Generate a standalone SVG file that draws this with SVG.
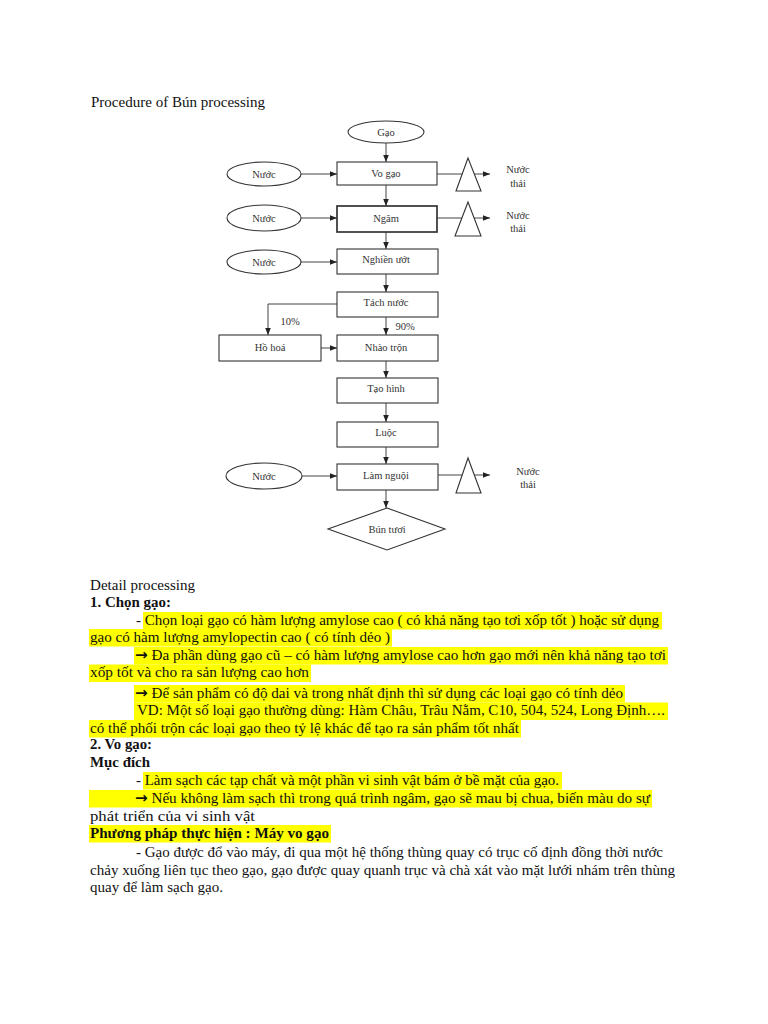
<svg xmlns="http://www.w3.org/2000/svg" width="768" height="1024" viewBox="0 0 768 1024">
<style>
  .bg{fill:#ffffff}
  .box{fill:#ffffff;stroke:#333333;stroke-width:1.1}
  .thick{stroke-width:1.7}
  .lbl{font-family:"Liberation Serif","Times New Roman",serif;font-size:10.5px;fill:#333333;text-anchor:middle}
  .con{fill:none;stroke:#444444;stroke-width:1}
  .body{font-family:"Liberation Serif","Times New Roman",serif;font-size:15px;fill:#111111}
  .b{font-weight:bold}
  .arr{font-family:"DejaVu Sans",sans-serif;font-weight:bold}
  .hl{fill:#ffff00}
</style>
<defs>
  <marker id="ah" viewBox="0 0 10 10" refX="10" refY="5" markerWidth="7" markerHeight="7" markerUnits="userSpaceOnUse" orient="auto">
    <path d="M0,1 L10,5 L0,9 Z" fill="#222222"/>
  </marker>
</defs>
<rect class="bg" x="0" y="0" width="768" height="1024"/>

<text class="body" x="91" y="107" textLength="174" lengthAdjust="spacingAndGlyphs">Procedure of Bún processing</text>

<g id="connectors">
  <line class="con" x1="386" y1="142" x2="386" y2="162" marker-end="url(#ah)"/>
  <line class="con" x1="301" y1="174" x2="337" y2="174" marker-end="url(#ah)"/>
  <line class="con" x1="437" y1="174" x2="490" y2="174" marker-end="url(#ah)"/>
  <line class="con" x1="386" y1="185" x2="386" y2="206" marker-end="url(#ah)"/>
  <line class="con" x1="301" y1="218" x2="337" y2="218" marker-end="url(#ah)"/>
  <line class="con" x1="437" y1="218" x2="490" y2="218" marker-end="url(#ah)"/>
  <line class="con" x1="386" y1="232" x2="386" y2="249" marker-end="url(#ah)"/>
  <line class="con" x1="301" y1="262" x2="337" y2="262" marker-end="url(#ah)"/>
  <line class="con" x1="386" y1="274" x2="386" y2="292" marker-end="url(#ah)"/>
  <polyline class="con" points="337,304 268,304 268,335" marker-end="url(#ah)"/>
  <line class="con" x1="386" y1="317" x2="386" y2="335" marker-end="url(#ah)"/>
  <line class="con" x1="321" y1="348" x2="337" y2="348" marker-end="url(#ah)"/>
  <line class="con" x1="386" y1="361" x2="386" y2="378" marker-end="url(#ah)"/>
  <line class="con" x1="386" y1="403" x2="386" y2="422" marker-end="url(#ah)"/>
  <line class="con" x1="386" y1="447" x2="386" y2="464" marker-end="url(#ah)"/>
  <line class="con" x1="302" y1="476" x2="337" y2="476" marker-end="url(#ah)"/>
  <line class="con" x1="438" y1="475" x2="490" y2="475" marker-end="url(#ah)"/>
  <line class="con" x1="386" y1="490" x2="386" y2="508" marker-end="url(#ah)"/>
  <text class="lbl" x="290" y="325">10%</text>
  <text class="lbl" x="405" y="330">90%</text>
</g>

<g id="gao"><ellipse class="box" cx="386" cy="132" rx="38" ry="11"/><text class="lbl" x="386" y="135.5">Gạo</text></g>
<g id="nuoc1"><ellipse class="box" cx="264" cy="174" rx="37" ry="12"/><text class="lbl" x="264" y="177.5">Nước</text></g>
<g id="vogao"><rect class="box" x="337" y="162" width="100" height="23"/><text class="lbl" x="386" y="177">Vo gạo</text></g>
<g id="loc1"><polygon class="box" points="468,158 456,191 481,191"/></g>
<g id="thai1"><text class="lbl" x="518" y="173">Nước</text><text class="lbl" x="518" y="187">thải</text></g>

<g id="nuoc2"><ellipse class="box" cx="264" cy="218" rx="37" ry="13"/><text class="lbl" x="264" y="221.5">Nước</text></g>
<g id="ngam"><rect class="box thick" x="337" y="206" width="100" height="26"/><text class="lbl" x="386" y="222">Ngâm</text></g>
<g id="loc2"><polygon class="box" points="468,202 455,236 481,236"/></g>
<g id="thai2"><text class="lbl" x="518" y="219">Nước</text><text class="lbl" x="518" y="232">thải</text></g>

<g id="nuoc3"><ellipse class="box" cx="264" cy="262" rx="37" ry="12"/><text class="lbl" x="264" y="265.5">Nước</text></g>
<g id="nghienuot"><rect class="box" x="337" y="249" width="101" height="25"/><text class="lbl" x="386" y="263">Nghiền ướt</text></g>

<g id="tachnuoc"><rect class="box" x="337" y="292" width="101" height="25"/><text class="lbl" x="386" y="306">Tách nước</text></g>
<g id="hohoa"><rect class="box" x="219" y="335" width="102" height="26"/><text class="lbl" x="270" y="351">Hồ hoá</text></g>
<g id="nhaotron"><rect class="box" x="337" y="335" width="101" height="26"/><text class="lbl" x="386" y="351">Nhào trộn</text></g>
<g id="taohinh"><rect class="box" x="337" y="378" width="101" height="25"/><text class="lbl" x="386" y="392">Tạo hình</text></g>
<g id="luoc"><rect class="box" x="337" y="422" width="101" height="25"/><text class="lbl" x="386" y="436">Luộc</text></g>

<g id="nuoc4"><ellipse class="box" cx="264" cy="476" rx="38" ry="13"/><text class="lbl" x="264" y="479.5">Nước</text></g>
<g id="lamnguoi"><rect class="box" x="337" y="464" width="101" height="26"/><text class="lbl" x="386" y="479">Làm nguội</text></g>
<g id="loc3"><polygon class="box" points="468,458 456,493 481,493"/></g>
<g id="thai3"><text class="lbl" x="528" y="475">Nước</text><text class="lbl" x="528" y="488">thải</text></g>

<g id="buntuoi"><polygon class="box" points="387,508 445,529 387,550 328,529"/><text class="lbl" x="387" y="532.5">Bún tươi</text></g>

<g id="highlights">
  <rect class="hl" x="143" y="612" width="519" height="17.5"/>
  <rect class="hl" x="89" y="629" width="303" height="17.5"/>
  <rect class="hl" x="134" y="647" width="534" height="17.5"/>
  <rect class="hl" x="89" y="664.5" width="222" height="17.5"/>
  <rect class="hl" x="134" y="685" width="491" height="17.5"/>
  <rect class="hl" x="134" y="702.5" width="534" height="17.5"/>
  <rect class="hl" x="89" y="720" width="432" height="17.5"/>
  <rect class="hl" x="143" y="772" width="419" height="17.5"/>
  <rect class="hl" x="89" y="790" width="563" height="17.5"/>
  <rect class="hl" x="89" y="825" width="242" height="17.5"/>
</g>

<g id="detail">
  <text class="body" x="90" y="590" textLength="105" lengthAdjust="spacingAndGlyphs">Detail processing</text>
  <text class="body b" x="90" y="607" textLength="81" lengthAdjust="spacingAndGlyphs">1. Chọn gạo:</text>
  <text class="body" x="136" y="625" textLength="523" lengthAdjust="spacingAndGlyphs">- Chọn loại gạo có hàm lượng amylose cao ( có khả năng tạo tơi xốp tốt ) hoặc sử dụng</text>
  <text class="body" x="90" y="642" textLength="300" lengthAdjust="spacingAndGlyphs">gạo có hàm lượng amylopectin cao ( có tính dẻo )</text>
  <text class="body" x="135" y="660" textLength="531" lengthAdjust="spacingAndGlyphs"><tspan class="arr">→</tspan> Đa phần dùng gạo cũ – có hàm lượng amylose cao hơn gạo mới nên khả năng tạo tơi</text>
  <text class="body" x="90" y="677" textLength="219" lengthAdjust="spacingAndGlyphs">xốp tốt và cho ra sản lượng cao hơn</text>
  <text class="body" x="135" y="698" textLength="488" lengthAdjust="spacingAndGlyphs"><tspan class="arr">→</tspan> Để sản phẩm có độ dai và trong nhất định thì sử dụng các loại gạo có tính dẻo</text>
  <text class="body" x="137" y="715" textLength="528" lengthAdjust="spacingAndGlyphs">VD: Một số loại gạo thường dùng: Hàm Châu, Trâu Nằm, C10, 504, 524, Long Định….</text>
  <text class="body" x="90" y="733" textLength="429" lengthAdjust="spacingAndGlyphs">có thể phối trộn các loại gạo theo tỷ lệ khác để tạo ra sản phẩm tốt nhất</text>
  <text class="body b" x="90" y="749" textLength="62" lengthAdjust="spacingAndGlyphs">2. Vo gạo:</text>
  <text class="body b" x="90" y="767" textLength="60" lengthAdjust="spacingAndGlyphs">Mục đích</text>
  <text class="body" x="136" y="785" textLength="423" lengthAdjust="spacingAndGlyphs">- Làm sạch các tạp chất và một phần vi sinh vật bám ở bề mặt của gạo.</text>
  <text class="body" x="135" y="803" textLength="515" lengthAdjust="spacingAndGlyphs"><tspan class="arr">→</tspan> Nếu không làm sạch thì trong quá trình ngâm, gạo sẽ mau bị chua, biến màu do sự</text>
  <text class="body" x="90" y="821" textLength="165" lengthAdjust="spacingAndGlyphs">phát triển của vi sinh vật</text>
  <text class="body b" x="90" y="838" textLength="239" lengthAdjust="spacingAndGlyphs">Phương pháp thực hiện : Máy vo gạo</text>
  <text class="body" x="136" y="857" textLength="527" lengthAdjust="spacingAndGlyphs">- Gạo được đổ vào máy, đi qua một hệ thống thùng quay có trục cố định đồng thời nước</text>
  <text class="body" x="90" y="875" textLength="585" lengthAdjust="spacingAndGlyphs">chảy xuống liên tục theo gạo, gạo được quay quanh trục và chà xát vào mặt lưới nhám trên thùng</text>
  <text class="body" x="90" y="892" textLength="133" lengthAdjust="spacingAndGlyphs">quay để làm sạch gạo.</text>
</g>
</svg>
